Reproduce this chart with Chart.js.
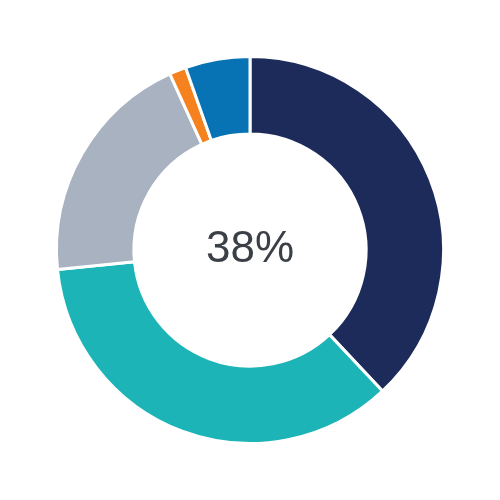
<!DOCTYPE html>
<html>
<head>
<meta charset="utf-8">
<script src="https://cdn.jsdelivr.net/npm/chart.js@4"></script>
<style>
html,body{margin:0;padding:0;background:#fff;}
#wrap{width:500px;height:500px;}
</style>
</head>
<body>
<div id="wrap"><canvas id="c" width="500" height="500"></canvas></div>
<script>
const categories = ["Navy", "Teal", "Gray", "Orange", "Blue"];
const values = [38, 35.4, 19.8, 1.4, 5.4];
const colors = ["#1c2b5a", "#1cb4b6", "#a8b2c1", "#f5821f", "#0873b4"];
const centerLabel = "38%";

const centerText = {
  id: "centerText",
  afterDraw(chart) {
    const ctx = chart.ctx;
    const meta = chart.getDatasetMeta(0);
    const arc = meta.data[0];
    ctx.save();
    ctx.font = "44px 'Liberation Sans', Arial, sans-serif";
    ctx.fillStyle = "#3b4047";
    ctx.textAlign = "center";
    ctx.textBaseline = "alphabetic";
    ctx.fillText(centerLabel, arc.x, arc.y + 12);
    ctx.restore();
  }
};

new Chart(document.getElementById("c"), {
  type: "doughnut",
  data: {
    labels: categories,
    datasets: [{
      data: values,
      backgroundColor: colors,
      borderColor: "#ffffff",
      borderWidth: 3,
      hoverOffset: 0
    }]
  },
  options: {
    responsive: false,
    animation: false,
    cutout: "60%",
    layout: { padding: 55 },
    plugins: {
      legend: { display: false },
      tooltip: { enabled: false }
    }
  },
  plugins: [centerText]
});
</script>
</body>
</html>
